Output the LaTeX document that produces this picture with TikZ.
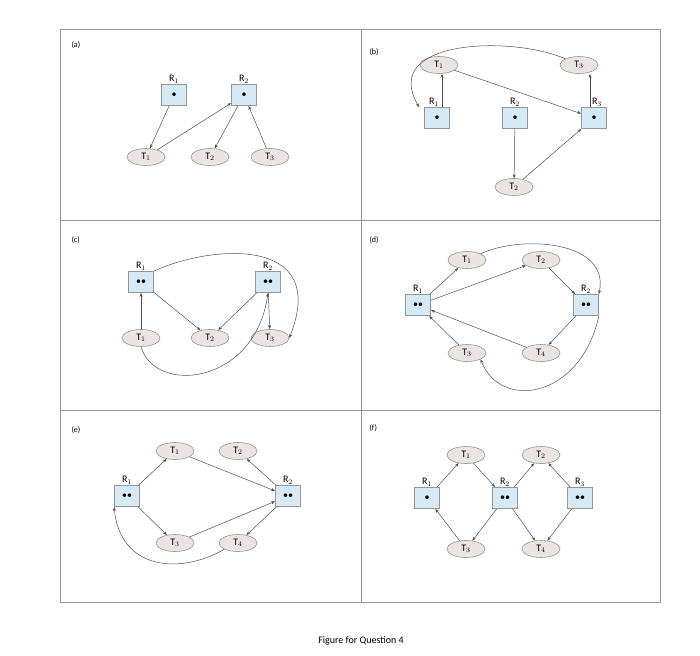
\documentclass[tikz,border=0pt]{standalone}
\usepackage{fontspec}
\setmainfont{Carlito}
\usetikzlibrary{arrows.meta,shapes.geometric}
\definecolor{boxc}{RGB}{214,234,245}
\definecolor{ellc}{RGB}{234,229,227}
\definecolor{framec}{RGB}{150,150,150}
\definecolor{edgec}{RGB}{80,80,80}
\tikzset{
  res/.style={draw=framec,fill=boxc,minimum width=25pt,minimum height=21pt,inner sep=0pt,font=\normalsize,line width=0.8pt},
  tr/.style={ellipse,draw=framec,fill=ellc,minimum width=38pt,minimum height=17pt,inner sep=0pt,font=\normalsize,line width=0.6pt},
  ed/.style={draw=edgec,line width=0.5pt,-{Stealth[length=4pt,width=3pt]}},
  plab/.style={font=\footnotesize,anchor=west},
  rlab/.style={label={[font=\normalsize,inner sep=0.5pt]above:#1}}
}
\begin{document}
\begin{tikzpicture}[x=1pt,y=-1pt]
\useasboundingbox[fill=white] (0,0) rectangle (700,655);
\draw[framec,line width=1pt] (60,30) rectangle (660,602);
\draw[framec,line width=1pt] (361,30) -- (361,602) (60,220) -- (660,220) (60,410) -- (660,410);
\node at (361,641) {Figure for Question 4};
% (a)
\node[plab] (la) at (68,45) {(a)};
\node[res,rlab={R$_1$}] (aR1) at (174,95) {•};
\node[res,rlab={R$_2$}] (aR2) at (244,95) {•};
\node[tr] (aT1) at (146,157) {T$_1$};
\node[tr] (aT2) at (210,157) {T$_2$};
\node[tr] (aT3) at (270,157) {T$_3$};
\draw[ed] (aR1) -- (aT1);
\draw[ed] (aT1) -- (aR2);
\draw[ed] (aR2) -- (aT2);
\draw[ed] (aT3) -- (aR2);
% (b)
\node[plab] (lb) at (366,52) {(b)};
\node[tr] (bT1) at (439,65) {T$_1$};
\node[tr] (bT3) at (579,65) {T$_3$};
\node[res,label={[font=\normalsize,inner sep=0.5pt,xshift=-3pt]above:R$_1$}] (bR1) at (437,118) {•};
\node[res,rlab={R$_2$}] (bR2) at (515,118) {•};
\node[res,label={[font=\normalsize,inner sep=0.5pt,xshift=3pt]above:R$_3$}] (bR3) at (594,118) {•};
\node[tr] (bT2) at (514,187) {T$_2$};
\draw[ed] ([xshift=5pt]bR1.north) -- ([xshift=5pt]bR1.north |- bT1.south);
\draw[ed] (bT1) -- (bR3);
\draw[ed] ([xshift=-4pt]bR3.north) -- ([xshift=-4pt]bR3.north |- bT3.south);
\draw[ed] (bR2) -- (bT2);
\draw[ed] (bT2) -- (bR3);
\draw[ed] (bT3.north west) .. controls (510,35) and (380,40) .. ([xshift=-5pt]bR1.north west);
% (c)
\node[plab] (lc) at (68,240) {(c)};
\node[res,rlab={R$_1$}] (cR1) at (141,282) {••};
\node[res,rlab={R$_2$}] (cR2) at (268,282) {••};
\node[tr] (cT1) at (141,338) {T$_1$};
\node[tr] (cT2) at (210,338) {T$_2$};
\node[tr] (cT3) at (270,338) {T$_3$};
\draw[ed] (cT1) -- (cR1);
\draw[ed] (cR1) -- (cT2);
\draw[ed] (cR2) -- (cT2);
\draw[ed] (cR2) -- (cT3);
\draw[ed] (cR1.north east) .. controls (210,245) and (330,235) .. (cT3.east);
\draw[ed] (cT1.south) .. controls (155,395) and (255,385) .. (cR2.south);
% (d)
\node[plab] (ld) at (366,240) {(d)};
\node[tr] (dT1) at (467,260) {T$_1$};
\node[tr] (dT2) at (541,260) {T$_2$};
\node[res,rlab={R$_1$}] (dR1) at (418,305) {••};
\node[res,rlab={R$_2$}] (dR2) at (586,305) {••};
\node[tr] (dT3) at (467,353) {T$_3$};
\node[tr] (dT4) at (541,353) {T$_4$};
\draw[ed] (dR1) -- (dT1);
\draw[ed] (dR1) -- (dT2);
\draw[ed] (dT2) -- (dR2);
\draw[ed] (dT4) -- (dR1);
\draw[ed] (dT3) -- (dR1);
\draw[ed] (dR2) -- (dT4);
\draw[ed] (dT1.north east) .. controls (520,235) and (610,240) .. (dR2.north east);
\draw[ed] (dR2.south east) .. controls (580,400) and (500,410) .. (dT3.south east);
% (e)
\node[plab] (le) at (68,430) {(e)};
\node[tr] (eT1) at (175,451) {T$_1$};
\node[tr] (eT2) at (238,451) {T$_2$};
\node[res,rlab={R$_1$}] (eR1) at (127,496) {••};
\node[res,rlab={R$_2$}] (eR2) at (288,496) {••};
\node[tr] (eT3) at (175,543) {T$_3$};
\node[tr] (eT4) at (238,543) {T$_4$};
\draw[ed] (eR1) -- (eT1);
\draw[ed] (eT1) -- (eR2);
\draw[ed] (eR2) -- (eT2);
\draw[ed] (eR1) -- (eT3);
\draw[ed] (eT3) -- (eR2);
\draw[ed] (eR2) -- (eT4);
\draw[ed] (eT4.south west) .. controls (180,575) and (120,570) .. (eR1.south west);
% (f)
\node[plab] (lf) at (366,428) {(f)};
\node[tr] (fT1) at (466,455) {T$_1$};
\node[tr] (fT2) at (541,455) {T$_2$};
\node[res,rlab={R$_1$}] (fR1) at (427,498) {•};
\node[res,rlab={R$_2$}] (fR2) at (505,498) {••};
\node[res,rlab={R$_3$}] (fR3) at (580,498) {••};
\node[tr] (fT3) at (466,549) {T$_3$};
\node[tr] (fT4) at (541,549) {T$_4$};
\draw[ed] (fR1) -- (fT1);
\draw[ed] (fT1) -- (fR2);
\draw[ed] (fR2) -- (fT2);
\draw[ed] (fR3) -- (fT2);
\draw[ed] (fR2) -- (fT3);
\draw[ed] (fT3) -- (fR1);
\draw[ed] (fR2) -- (fT4);
\draw[ed] (fR3) -- (fT4);
\end{tikzpicture}
\end{document}
